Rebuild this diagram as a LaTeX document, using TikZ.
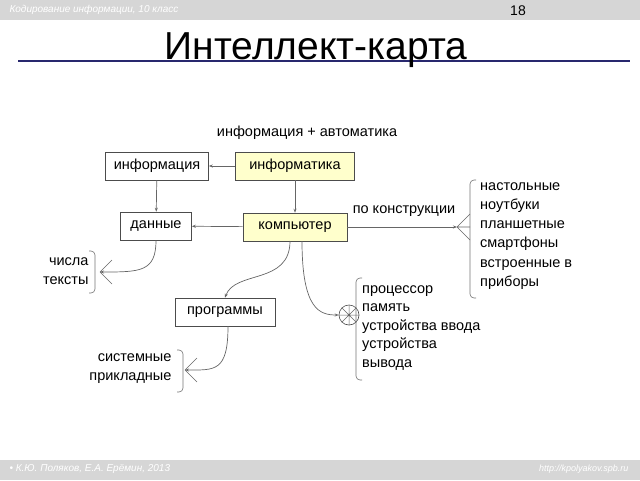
\documentclass[tikz,border=0pt]{standalone}
\usepackage{fontspec}
\setmainfont{Liberation Sans}
\usetikzlibrary{arrows.meta}
\begin{document}
\begin{tikzpicture}[x=1pt,y=-1pt,
  every node/.style={font=\fontsize{14.5}{16}\selectfont},
  box/.style={draw=black!70,line width=0.6pt,minimum height=28pt,inner sep=2pt},
  conn/.style={draw=black!60,line width=0.7pt,-{Stealth[length=4pt,width=3pt]}},
  lst/.style={align=left,anchor=north west,inner sep=0pt,font=\fontsize{14.5}{19.3}\selectfont},
  brk/.style={draw=black!55,line width=0.6pt,rounded corners=4pt}]
\useasboundingbox (0,0) rectangle (640,480);
\fill[black!16] (0,0) rectangle (640,20);
\fill[black!16] (0,460) rectangle (640,480);
\node[anchor=west,text=white,font=\itshape\fontsize{10}{12}\selectfont] (hd) at (6,10) {Кодирование информации, 10 класс};
\node[font=\fontsize{14}{16}\selectfont] (pg) at (518,11) {18};
\node[anchor=west,text=white,font=\itshape\fontsize{10}{12}\selectfont] (ft) at (6,469) {\textbullet\ К.Ю. Поляков, Е.А. Ерёмин, 2013};
\node[anchor=east,text=white,font=\itshape\fontsize{9}{11}\selectfont] (url) at (632,469) {http://kpolyakov.spb.ru};
\draw[draw={rgb,255:red,40;green,40;blue,110},line width=1.2pt] (18,61) coordinate (l1) -- (630,61) coordinate (l2);
\node[font=\fontsize{39}{42}\selectfont] (title) at (316,50) {Интеллект-карта};

\node (top) at (307,133) {информация + автоматика};
\node[box,minimum width=103pt] (inf) at (157,166) {информация};
\node[box,minimum width=119pt,fill={rgb,255:red,255;green,255;blue,204}] (ika) at (295,166) {информатика};
\node[box,minimum width=71pt] (dan) at (156,226) {данные};
\node[box,minimum width=104pt,fill={rgb,255:red,255;green,255;blue,204}] (comp) at (295,227) {компьютер};
\node[box,minimum width=100pt] (prog) at (225,312) {программы};

\draw[conn] (ika) -- (inf);
\draw[conn] (inf) -- (dan);
\draw[conn] (ika) -- (comp);
\draw[conn] (comp) -- (dan);

% right list
\coordinate (f1) at (457,227);
\draw[conn] (comp) -- (f1);
\node[anchor=south] (pk) at (404,220) {по конструкции};
\draw[brk] (476,180) -- (470,180) -- (470,298) -- (476,298);
\draw[black!60,line width=0.6pt] (f1) -- (470,214) (f1) -- (470,227) (f1) -- (470,240);
\node[lst] (l1t) at (480,182) {настольные\\ноутбуки\\планшетные\\смартфоны\\встроенные в\\приборы};

% left list
\coordinate (f2) at (100,272);
\draw[conn] (dan.south) .. controls (156,272) and (140,272) .. (f2);
\draw[brk] (89,251) -- (95,251) -- (95,293) -- (89,293);
\draw[black!60,line width=0.6pt] (f2) -- (112,260) (f2) -- (112,284);
\node[anchor=east] (n1) at (92,262) {числа};
\node[anchor=east] (n2) at (92,281) {тексты};

% programs
\draw[conn] (290,241) .. controls (290,285) and (235,270) .. (prog.north);
\coordinate (f3) at (185,370);
\draw[conn] (228,326) .. controls (228,372) and (215,370) .. (f3);
\draw[brk] (177,350) -- (183,350) -- (183,392) -- (177,392);
\draw[black!60,line width=0.6pt] (f3) -- (197,358) (f3) -- (197,382);
\node[anchor=east] (s1) at (175,358) {системные};
\node[anchor=east] (s2) at (175,378) {прикладные};

% circle
\node[circle,draw=black!70,line width=0.6pt,minimum size=20pt,inner sep=0pt] (cir) at (349,315) {};
\draw[black!60,line width=0.5pt] (cir.north) -- (cir.south) (cir.west) -- (cir.east) (cir.north west) -- (cir.south east) (cir.north east) -- (cir.south west);
\draw[conn] (302,241) .. controls (302,310) and (320,315) .. (cir.west);
\draw[brk] (362,278) -- (356,278) -- (356,380) -- (362,380);
\node[lst,font=\fontsize{14.5}{18.6}\selectfont] (l2t) at (362,285) {процессор\\память\\устройства ввода\\устройства\\вывода};
\end{tikzpicture}
\end{document}
